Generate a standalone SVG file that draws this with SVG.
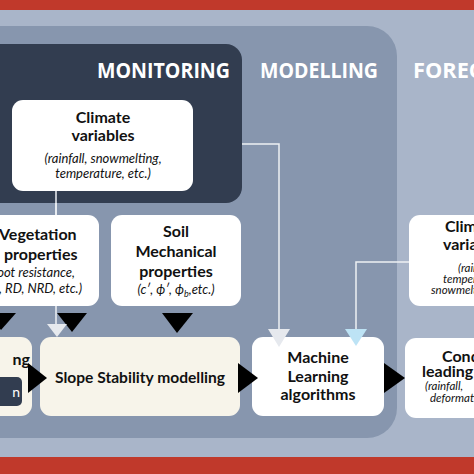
<svg xmlns="http://www.w3.org/2000/svg" width="474" height="474" viewBox="0 0 474 474">
<style>
.box{fill:#ffffff}
.cream{fill:#f7f4ea}
.t{font-family:Lato,"Open Sans","Liberation Sans",sans-serif;font-weight:bold;font-size:16px;fill:#111111;text-anchor:middle}
.i{font-family:Lato,"Open Sans","Liberation Sans",sans-serif;font-style:italic;font-size:13px;fill:#111111;text-anchor:middle}
.s{font-size:11.5px}
.h{font-family:"Open Sans",Lato,"Liberation Sans",sans-serif;font-weight:bold;font-size:22px;fill:#ffffff}
.ln{fill:none;stroke:#eef1f4;stroke-width:1.5}
.blk{fill:#000000}
</style>
<rect x="0" y="0" width="474" height="474" fill="#a9b5c9"/>
<rect x="0" y="0" width="474" height="10" fill="#c0392b"/>
<rect x="0" y="457" width="474" height="17" fill="#c0392b"/>
<g id="modelling-panel">
<rect x="-40" y="26" width="437" height="412" rx="30" fill="#8796ae"/>
<text class="h" x="260" y="78" textLength="118" lengthAdjust="spacingAndGlyphs">MODELLING</text>
</g>
<g id="forecasting-header">
<text class="h" x="413" y="78" textLength="150" lengthAdjust="spacingAndGlyphs">FORECASTING</text>
</g>
<g id="connectors">
<polyline class="ln" points="193,144 279,144 279,331"/>
<polyline class="ln" points="409,262 356,262 356,331"/>
<line class="ln" x1="56" y1="191" x2="56" y2="326"/>
</g>
<g id="monitoring-panel">
<rect x="-40" y="44" width="282" height="159" rx="16" fill="#323d50"/>
<text class="h" x="97" y="78" textLength="133" lengthAdjust="spacingAndGlyphs">MONITORING</text>
</g>
<g id="climate-variables">
<rect class="box" x="12" y="100" width="181" height="91" rx="11"/>
<text class="t" x="103" y="123">Climate</text>
<text class="t" x="103" y="141">variables</text>
<text class="i" x="103" y="163">(rainfall, snowmelting,</text>
<text class="i" x="103" y="178">temperature, etc.)</text>
</g>
<line class="ln" x1="56" y1="191" x2="56" y2="215"/>
<g id="vegetation-properties">
<rect class="box" x="-30" y="215" width="129" height="91" rx="11"/>
<text class="t" x="-1" y="240" style="text-anchor:start">Vegetation</text>
<text class="t" x="4" y="260" style="text-anchor:start">properties</text>
<text class="i" x="75" y="277" style="text-anchor:end">(root resistance,</text>
<text class="i" x="82" y="293" style="text-anchor:end">(RAR, RD, NRD, etc.)</text>
</g>
<g id="soil-mechanical-properties">
<rect class="box" x="111" y="215" width="130" height="91" rx="11"/>
<text class="t" x="176" y="237">Soil</text>
<text class="t" x="176" y="257">Mechanical</text>
<text class="t" x="176" y="277">properties</text>
<text class="i" x="176" y="294">(c′, ϕ′, ϕ<tspan font-size="9" dy="2.5">b</tspan><tspan dy="-2.5">,etc.)</tspan></text>
</g>
<g id="climate-variables-forecast">
<rect class="box" x="409" y="215" width="100" height="91" rx="11"/>
<text class="t" x="445" y="232" style="text-anchor:start">Climate</text>
<text class="t" x="443" y="250" style="text-anchor:start">variables</text>
<text class="i s" x="458" y="272" style="text-anchor:start">(rainfall,</text>
<text class="i s" x="443" y="283" style="text-anchor:start">temperature,</text>
<text class="i s" x="431" y="294" style="text-anchor:start">snowmelting, etc.)</text>
</g>
<g id="left-partial">
<rect class="cream" x="-40" y="337" width="72" height="79" rx="11"/>
<text class="t" x="30" y="365" style="text-anchor:end">ng</text>
<rect x="-20" y="377" width="42" height="29" rx="5" fill="#323d50"/>
<text class="i" x="20" y="397" style="text-anchor:end;fill:#ffffff;font-style:normal;font-size:14px">n</text>
</g>
<g id="slope-stability-modelling">
<rect class="cream" x="40" y="337" width="200" height="79" rx="11"/>
<text class="t" x="140" y="383" textLength="170" lengthAdjust="spacingAndGlyphs">Slope Stability modelling</text>
</g>
<g id="machine-learning-algorithms">
<rect class="box" x="252" y="337" width="132" height="79" rx="11"/>
<text class="t" x="318" y="363">Machine</text>
<text class="t" x="318" y="382">Learning</text>
<text class="t" x="318" y="400">algorithms</text>
</g>
<g id="conditions-leading">
<rect class="box" x="405" y="338" width="100" height="80" rx="11"/>
<text class="t" x="442" y="362" style="text-anchor:start">Conditions</text>
<text class="t" x="422" y="377" style="text-anchor:start">leading to</text>
<text class="i s" x="425" y="390" style="text-anchor:start">(rainfall,</text>
<text class="i s" x="430" y="402" style="text-anchor:start">deformations</text>
</g>
<g id="arrowheads">
<polygon class="blk" points="-14,313 16,313 1,330"/>
<polygon class="blk" points="57,313 87,313 72,332"/>
<polygon class="blk" points="162,313 193,313 177,333"/>
<polygon class="blk" points="28,363 28,393 47,378"/>
<polygon class="blk" points="238,363 238,393 258,378"/>
<polygon class="blk" points="384,363 384,393 405,378"/>
<polygon points="47,324 67,324 57,337" fill="#e6e9ee"/>
<polygon points="268,329 290,329 279,347" fill="#e6e9ee"/>
<polygon points="345,329 367,329 356,346" fill="#bde3f5"/>
</g>
</svg>
